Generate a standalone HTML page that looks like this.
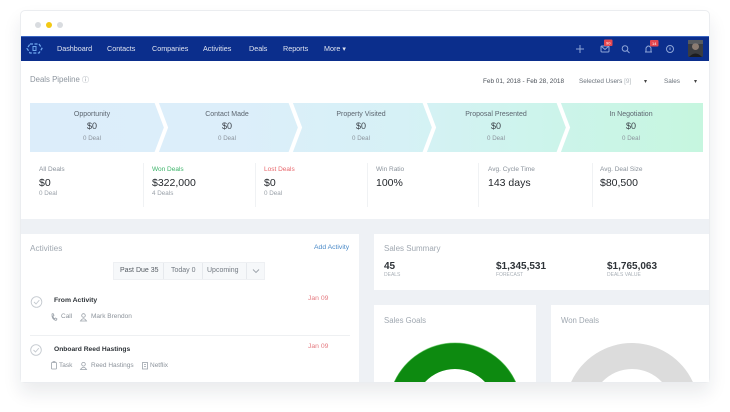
<!DOCTYPE html>
<html><head><meta charset="utf-8">
<style>
*{margin:0;padding:0;box-sizing:border-box}
html,body{width:730px;height:412px;background:#fff;overflow:hidden;font-family:"Liberation Sans",sans-serif}
#wrap{position:relative;width:730px;height:412px;overflow:hidden}
.t{position:absolute;white-space:nowrap;line-height:1}
.win{position:absolute;left:20px;top:10px;width:690px;height:373px;border:1px solid #ebedf0;border-radius:5px;background:#eef1f5;box-shadow:0 10px 18px rgba(20,30,60,0.09);overflow:hidden}
.card{position:absolute;background:#fff}
.nav{color:rgba(255,255,255,0.88);font-size:7.2px}
.seg1{font-size:7px;color:#5d6670;transform:translateX(-50%)}
.seg2{font-size:9px;color:#3a4048;transform:translateX(-50%)}
.seg3{font-size:6.2px;color:#8b939c;transform:translateX(-50%)}
.sl{font-size:6.5px;color:#8a929b}
.sv{font-size:10.5px;color:#24282d}
.ss{font-size:6.3px;color:#9aa1a9}
.sub{font-size:6.5px;color:#8c939b}
.div{position:absolute;width:1px;background:#f0f2f4;top:163px;height:44px}
</style></head><body>
<div id="wrap">
<div class="win">
  <div class="card" style="left:0;top:0;width:690px;height:26px;"></div>
</div>

<div style="position:absolute;left:35px;top:22px;width:6px;height:6px;border-radius:50%;background:#d9dce0"></div>
<div style="position:absolute;left:46px;top:22px;width:6px;height:6px;border-radius:50%;background:#f3c914"></div>
<div style="position:absolute;left:57px;top:22px;width:6px;height:6px;border-radius:50%;background:#d9dce0"></div>

<div style="position:absolute;left:21px;top:36px;width:688px;height:25px;background:#0b2e8c;border-top:1px solid #3b66c2"></div>
<svg style="position:absolute;left:26px;top:43px" width="17" height="11" viewBox="0 0 17 11">
  <path d="M4 1 H13 L16 5.5 L13 10 H4 L1 5.5 Z" fill="none" stroke="#6fa8ee" stroke-width="1.2" stroke-dasharray="3 1.5"/>
  <rect x="7" y="3.5" width="3" height="4" fill="none" stroke="#6fa8ee" stroke-width="1"/>
</svg>
<div class="t nav" style="left:57px;top:45.3px">Dashboard</div>
<div class="t nav" style="left:107px;top:45.3px">Contacts</div>
<div class="t nav" style="left:152px;top:45.3px">Companies</div>
<div class="t nav" style="left:203px;top:45.3px">Activities</div>
<div class="t nav" style="left:249px;top:45.3px">Deals</div>
<div class="t nav" style="left:283px;top:45.3px">Reports</div>
<div class="t nav" style="left:324px;top:45.3px">More ▾</div>

<svg style="position:absolute;left:560px;top:36px" width="150" height="25" viewBox="560 36 150 25">
  <g stroke="#8fa6d8" stroke-width="1" fill="none">
    <path d="M580 45 V53 M576 49 H584"/>
    <rect x="601" y="46" width="8" height="6" rx="1"/>
    <path d="M601 46 L605 49.5 L609 46"/>
    <circle cx="625" cy="48.5" r="2.8"/>
    <path d="M627 50.5 L629.5 53"/>
    <path d="M645 52 H652 M646 52 V48 Q648.5 44 651 48 V52"/>
    <circle cx="670" cy="49" r="3.5"/>
    <path d="M670 47.5 V50"/>
  </g>
  <rect x="604" y="39.5" width="8.5" height="6.5" rx="1" fill="#e4474f"/>
  <text x="608.2" y="44.6" font-size="4" fill="#fff" text-anchor="middle" font-family="Liberation Sans">90</text>
  <rect x="650" y="40" width="8.5" height="6.5" rx="1" fill="#e4474f"/>
  <text x="654.2" y="45" font-size="4" fill="#fff" text-anchor="middle" font-family="Liberation Sans">14</text>
  <rect x="688" y="40" width="15" height="17" rx="1.5" fill="#3a3c40"/>
  <circle cx="695.5" cy="46.5" r="3.5" fill="#8b7c72"/>
  <path d="M689 57 Q695.5 50 702 57 Z" fill="#1c1d20"/>
  <rect x="688" y="40" width="15" height="4" fill="#6b7076" opacity="0.6"/>
</svg>

<div class="card" style="left:21px;top:61px;width:688px;height:158px"></div>
<div class="t" style="left:30px;top:76px;font-size:7.8px;color:#8d959e">Deals Pipeline <span style="font-size:7px">ⓘ</span></div>
<div class="t" style="left:483px;top:78.7px;font-size:6.4px;color:#4a5058">Feb 01, 2018 - Feb 28, 2018</div>
<div class="t" style="left:579px;top:78.7px;font-size:6.4px;color:#6b737c">Selected Users <span style="color:#b0b6bc">[9]</span></div>
<div class="t" style="left:644px;top:78.7px;font-size:6px;color:#444">▾</div>
<div class="t" style="left:664px;top:78.7px;font-size:6.4px;color:#6b737c">Sales</div>
<div class="t" style="left:694px;top:78.7px;font-size:6px;color:#444">▾</div>

<div style="position:absolute;left:30px;top:103px;width:673px;height:49px;background:linear-gradient(90deg,#dcedfa 0%,#dceefa 30%,#d6f1f6 55%,#cdf4ec 75%,#c6f6df 100%)"></div>
<svg style="position:absolute;left:0;top:0" width="730" height="160">
  <g stroke="#fff" stroke-width="4" fill="none" stroke-linejoin="miter">
    <path d="M156 101 L166 127.5 L156 154"/>
    <path d="M290 101 L300 127.5 L290 154"/>
    <path d="M424 101 L434 127.5 L424 154"/>
    <path d="M558 101 L568 127.5 L558 154"/>
  </g>
</svg>
<div class="t seg1" style="left:92px;top:111.4px">Opportunity</div>
<div class="t seg2" style="left:92px;top:122.3px">$0</div>
<div class="t seg3" style="left:92px;top:135.8px">0 Deal</div>
<div class="t seg1" style="left:227px;top:111.4px">Contact Made</div>
<div class="t seg2" style="left:227px;top:122.3px">$0</div>
<div class="t seg3" style="left:227px;top:135.8px">0 Deal</div>
<div class="t seg1" style="left:361px;top:111.4px">Property Visited</div>
<div class="t seg2" style="left:361px;top:122.3px">$0</div>
<div class="t seg3" style="left:361px;top:135.8px">0 Deal</div>
<div class="t seg1" style="left:496px;top:111.4px">Proposal Presented</div>
<div class="t seg2" style="left:496px;top:122.3px">$0</div>
<div class="t seg3" style="left:496px;top:135.8px">0 Deal</div>
<div class="t seg1" style="left:631px;top:111.4px">In Negotiation</div>
<div class="t seg2" style="left:631px;top:122.3px">$0</div>
<div class="t seg3" style="left:631px;top:135.8px">0 Deal</div>

<div class="div" style="left:143px"></div>
<div class="div" style="left:255px"></div>
<div class="div" style="left:367px"></div>
<div class="div" style="left:478px"></div>
<div class="div" style="left:592px"></div>
<div class="t sl" style="left:39px;top:166.6px">All Deals</div>
<div class="t sv" style="left:39px;top:177.5px">$0</div>
<div class="t ss" style="left:39px;top:190.7px">0 Deal</div>
<div class="t sl" style="left:152px;top:166.6px;color:#3db46a">Won Deals</div>
<div class="t sv" style="left:152px;top:177.5px">$322,000</div>
<div class="t ss" style="left:152px;top:190.7px">4 Deals</div>
<div class="t sl" style="left:264px;top:166.6px;color:#e8676c">Lost Deals</div>
<div class="t sv" style="left:264px;top:177.5px">$0</div>
<div class="t ss" style="left:264px;top:190.7px">0 Deal</div>
<div class="t sl" style="left:376px;top:166.6px">Win Ratio</div>
<div class="t sv" style="left:376px;top:177.5px">100%</div>
<div class="t sl" style="left:488px;top:166.6px">Avg. Cycle Time</div>
<div class="t sv" style="left:488px;top:177.5px">143 days</div>
<div class="t sl" style="left:600px;top:166.6px">Avg. Deal Size</div>
<div class="t sv" style="left:600px;top:177.5px">$80,500</div>

<div class="card" style="left:21px;top:234px;width:338px;height:148px"></div>
<div class="t" style="left:30px;top:244.7px;font-size:8.2px;color:#a0a8b1">Activities</div>
<div class="t" style="left:314px;top:244.5px;font-size:6.8px;color:#4a8ac8">Add Activity</div>
<div style="position:absolute;left:113px;top:262px;width:152px;height:18px;background:#f6f8fa;border:1px solid #eef0f3"></div>
<div style="position:absolute;left:163px;top:263px;width:1px;height:16px;background:#e6e9ed"></div>
<div style="position:absolute;left:202px;top:263px;width:1px;height:16px;background:#e6e9ed"></div>
<div style="position:absolute;left:246px;top:263px;width:1px;height:16px;background:#e6e9ed"></div>
<div class="t" style="left:120px;top:267.4px;font-size:7px;color:#555b62">Past Due 35</div>
<div class="t" style="left:171px;top:267.4px;font-size:7px;color:#737a82">Today 0</div>
<div class="t" style="left:207px;top:267.4px;font-size:7px;color:#737a82">Upcoming</div>
<svg style="position:absolute;left:252px;top:268px" width="8" height="6"><path d="M1 1.5 L4 4.5 L7 1.5" stroke="#9aa1a9" fill="none" stroke-width="0.9"/></svg>

<svg style="position:absolute;left:0;top:290px" width="360" height="90">
  <g stroke="#c5cad0" fill="none" stroke-width="0.9">
    <circle cx="36.5" cy="12" r="5.3"/>
    <path d="M34 12 L36 14 L39.3 10.2"/>
    <circle cx="36" cy="60" r="5.3"/>
    <path d="M33.5 60 L35.5 62 L38.8 58.2"/>
  </g>
  <g stroke="#9ba2aa" fill="none" stroke-width="0.8">
    <path d="M52 24 Q51.5 29 56 30.5 L57 29 L55.5 28 L54.5 28.8 Q53 27.8 53 26 L54 25.3 L53 23.5 Z"/>
    <circle cx="83.5" cy="25.5" r="1.8"/>
    <path d="M80.5 31 Q83.5 26.5 86.5 31 Z"/>
    <rect x="51.5" y="72.5" width="5" height="6.5" rx="0.6"/>
    <path d="M53 72.5 V71.6 H55 V72.5"/>
    <circle cx="83.5" cy="74.2" r="1.8"/>
    <path d="M80.5 79.5 Q83.5 75 86.5 79.5 Z"/>
    <rect x="142.5" y="72.5" width="5" height="6.5"/>
    <path d="M144 74.5 H146 M144 76.5 H146"/>
  </g>
</svg>
<div class="t" style="left:54px;top:297.5px;font-size:6.8px;color:#2e3338;font-weight:bold">From Activity</div>
<div class="t" style="left:308px;top:295.5px;font-size:6.8px;color:#e57a80">Jan 09</div>
<div class="t sub" style="left:61px;top:314px">Call</div>
<div class="t sub" style="left:91px;top:314px">Mark Brendon</div>
<div style="position:absolute;left:30px;top:335px;width:320px;height:1px;background:#eef0f2"></div>
<div class="t" style="left:54px;top:346.5px;font-size:6.7px;color:#2e3338;font-weight:bold">Onboard Reed Hastings</div>
<div class="t" style="left:308px;top:343.5px;font-size:6.8px;color:#e57a80">Jan 09</div>
<div class="t sub" style="left:59px;top:362.6px">Task</div>
<div class="t sub" style="left:91px;top:362.6px">Reed Hastings</div>
<div class="t sub" style="left:150px;top:362.6px">Netflix</div>

<div class="card" style="left:374px;top:234px;width:335px;height:56px"></div>
<div class="t" style="left:384px;top:244.8px;font-size:8px;color:#a0a8b1">Sales Summary</div>
<div class="t" style="left:384px;top:261.8px;font-size:10px;color:#2e3338;font-weight:bold">45</div>
<div class="t" style="left:384px;top:273.4px;font-size:5px;color:#a9b0b7">DEALS</div>
<div class="t" style="left:496px;top:261.8px;font-size:10px;color:#2e3338;font-weight:bold">$1,345,531</div>
<div class="t" style="left:496px;top:273.4px;font-size:5px;color:#a9b0b7">FORECAST</div>
<div class="t" style="left:607px;top:261.8px;font-size:10px;color:#2e3338;font-weight:bold">$1,765,063</div>
<div class="t" style="left:607px;top:273.4px;font-size:5px;color:#a9b0b7">DEALS VALUE</div>

<div class="card" style="left:374px;top:305px;width:162px;height:77px;overflow:hidden">
  <svg style="position:absolute;left:0;top:0" width="162" height="77" viewBox="0 0 162 77">
    <path d="M20.13 77 A67 67 0 0 1 141.87 77 L110.95 77 A41 41 0 0 0 51.05 77 Z" fill="#0d8a10"/>
    <path d="M20.6 76.5 A66.6 66.6 0 0 1 141.4 76.5" fill="none" stroke="#4fc24f" stroke-width="0.8" opacity="0.6"/>
  </svg>
</div>
<div class="t" style="left:384px;top:317px;font-size:7.8px;color:#a0a8b1">Sales Goals</div>

<div class="card" style="left:551px;top:305px;width:158px;height:77px;overflow:hidden">
  <svg style="position:absolute;left:0;top:0" width="158" height="77" viewBox="0 0 158 77">
    <path d="M20.13 77 A67 67 0 0 1 141.87 77 L110.95 77 A41 41 0 0 0 51.05 77 Z" fill="#dcdcdc"/>
  </svg>
</div>
<div class="t" style="left:561px;top:317px;font-size:7.8px;color:#a0a8b1">Won Deals</div>
</div>
</body></html>
